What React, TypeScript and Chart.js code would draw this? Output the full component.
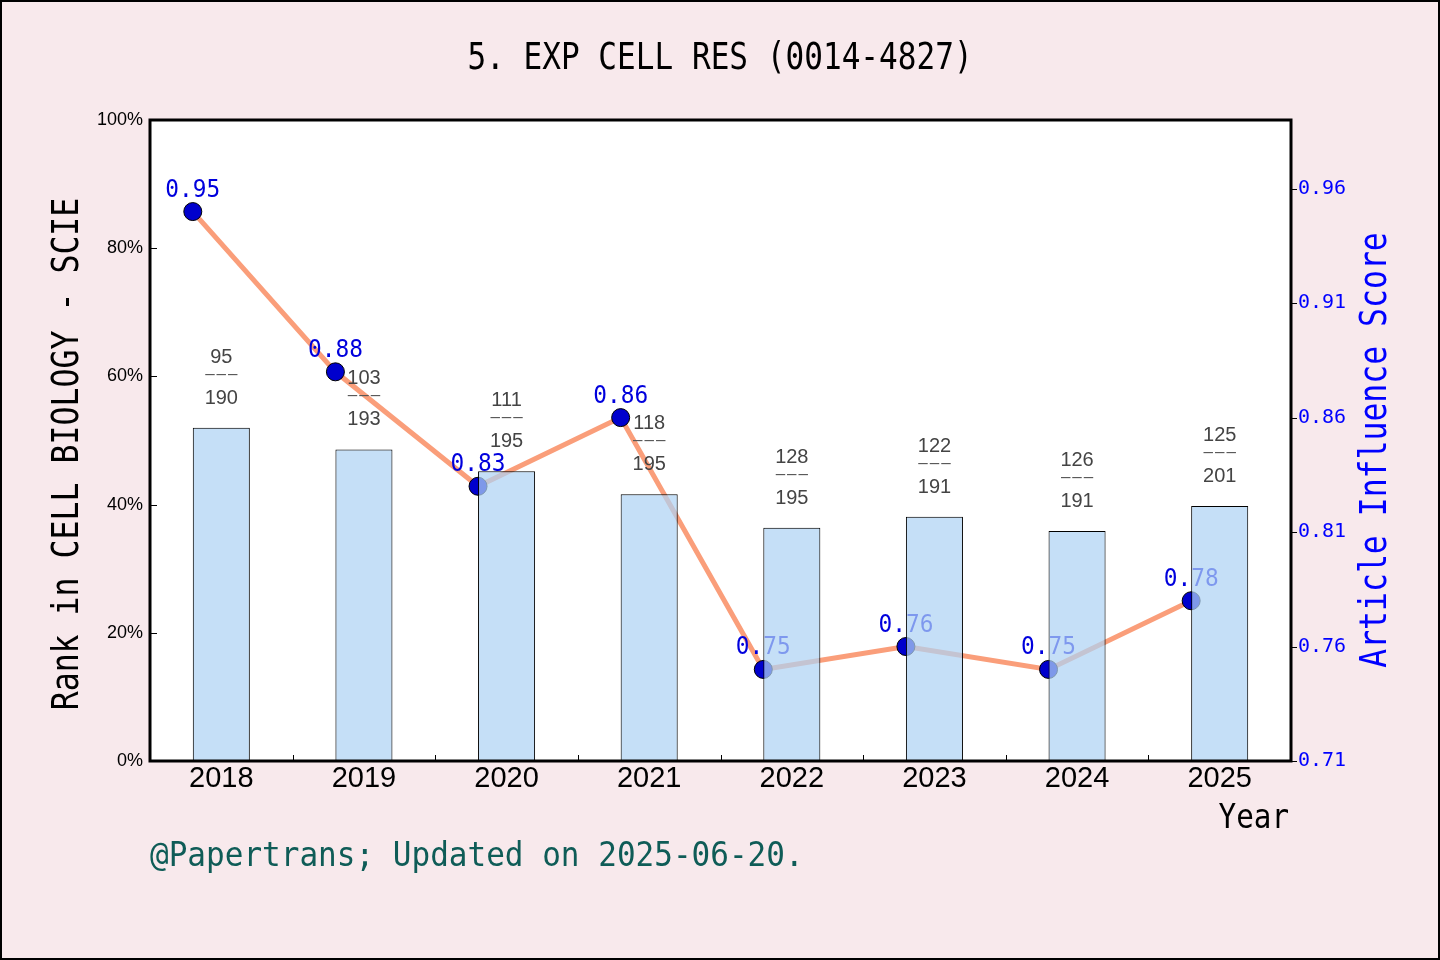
import React, { useEffect, useRef } from "react";
import { Chart, registerables } from "chart.js";

Chart.register(...registerables);

// ---------- data ----------
const years = ["2018", "2019", "2020", "2021", "2022", "2023", "2024", "2025"];
const rankPercent = [52.0, 48.6, 45.2, 41.6, 36.4, 38.1, 35.9, 39.8];
const rankNumbers = [95, 103, 111, 118, 128, 122, 126, 125];
const categoryTotals = [190, 193, 195, 195, 195, 191, 191, 201];
const aisValues = [0.95, 0.88, 0.83, 0.86, 0.75, 0.76, 0.75, 0.78];
const rankTicks = [0, 20, 40, 60, 80, 100];
const aisTicks = [0.71, 0.76, 0.81, 0.86, 0.91, 0.96];

const titleText = "5. EXP CELL RES (0014-4827)";
const leftTitle = "Rank in CELL BIOLOGY - SCIE";
const rightTitle = "Article Influence Score";
const xTitle = "Year";
const footerText = "@Papertrans; Updated on 2025-06-20.";

// ---------- style ----------
const BG = "#f8e9ec";
const MONO = "'DejaVu Sans Mono', monospace";
const SANS = "'Liberation Sans', Arial, sans-serif";
const LINE_SHIFT = -0.2;

function drawText(
  ctx: CanvasRenderingContext2D,
  text: string,
  x: number,
  y: number,
  size: number,
  sx: number,
  color: string,
  align: CanvasTextAlign,
  rotate = false,
  family = MONO,
  spacing = 0
) {
  ctx.save();
  ctx.translate(x, y);
  if (rotate) ctx.rotate(-Math.PI / 2);
  ctx.scale(sx, 1);
  ctx.font = `${size}px ${family}`;
  (ctx as any).letterSpacing = `${spacing}px`;
  ctx.fillStyle = color;
  ctx.textAlign = align;
  ctx.textBaseline = "alphabetic";
  ctx.fillText(text, spacing ? spacing / 2 : 0, 0);
  ctx.restore();
}

const decorPlugin = {
  id: "decor",
  beforeDraw(chart: any) {
    const { ctx, chartArea: a, width, height } = chart;
    ctx.save();
    ctx.fillStyle = BG;
    ctx.fillRect(0, 0, width, height);
    ctx.fillStyle = "#ffffff";
    ctx.fillRect(a.left, a.top, a.right - a.left, a.bottom - a.top);
    ctx.restore();
  },
  afterDatasetDraw(chart: any, args: any) {
    if (args.index !== 1) return;
    const ctx = chart.ctx as CanvasRenderingContext2D;
    // AIS point labels
    const lineMeta = chart.getDatasetMeta(1);
    lineMeta.data.forEach((pt: any, i: number) => {
      drawText(ctx, aisValues[i].toFixed(2), pt.x, pt.y - 15, 24, 0.95, "#0000dd", "center");
    });
    // rank labels above bars
    const barMeta = chart.getDatasetMeta(0);
    barMeta.data.forEach((bar: any, i: number) => {
      drawText(ctx, String(rankNumbers[i]), bar.x, bar.y - 65, 20, 1, "#444444", "center", false, SANS);
      drawText(ctx, "\u2013\u2013\u2013", bar.x, bar.y - 49, 17, 1, "#555555", "center", false, SANS, 2);
      drawText(ctx, String(categoryTotals[i]), bar.x, bar.y - 24, 20, 1, "#444444", "center", false, SANS);
    });
  },
  afterDatasetsDraw(chart: any) {
    const { ctx, chartArea: a } = chart;
    const n = years.length;
    const cw = (a.right - a.left) / n;
    ctx.save();
    ctx.strokeStyle = "#000";
    ctx.lineWidth = 1;
    ctx.beginPath();
    for (let k = 1; k < n; k++) {
      const x = Math.round(a.left + k * cw) + 0.5;
      ctx.moveTo(x, a.bottom);
      ctx.lineTo(x, a.bottom - 6);
    }
    const y = chart.scales.y;
    rankTicks.forEach((v) => {
      const py = Math.round(y.getPixelForValue(v)) + 0.5;
      ctx.moveTo(a.left, py);
      ctx.lineTo(a.left + 7, py);
    });
    const y2 = chart.scales.y2;
    aisTicks.forEach((v) => {
      const py = Math.round(y2.getPixelForValue(v)) + 0.5;
      ctx.moveTo(a.right, py);
      ctx.lineTo(a.right + 6, py);
    });
    ctx.stroke();
    ctx.lineWidth = 3;
    ctx.strokeRect(a.left, a.top, a.right - a.left, a.bottom - a.top);
    ctx.restore();
  },
  afterDraw(chart: any) {
    const { ctx, width, height, chartArea: a } = chart;
    drawText(ctx, titleText, width / 2, 69, 37, 0.84, "#000", "center");
    drawText(ctx, leftTitle, 78, 454, 38, 0.83, "#000", "center", true);
    drawText(ctx, rightTitle, 1386, 450, 37, 0.85, "#0000ff", "center", true);
    drawText(ctx, xTitle, a.right - 2, 828, 34, 0.86, "#000", "right");
    drawText(ctx, footerText, 150, 866, 33, 0.94, "#0f5c57", "left");
    ctx.save();
    ctx.strokeStyle = "#000";
    ctx.lineWidth = 2;
    ctx.strokeRect(1, 1, width - 2, height - 2);
    ctx.restore();
  },
};

export default function App() {
  const ref = useRef<HTMLCanvasElement | null>(null);

  useEffect(() => {
    if (!ref.current) return;
    const chart = new Chart(ref.current, {
      type: "bar",
      data: {
        labels: years,
        datasets: [
          {
            type: "bar",
            label: "Rank",
            data: rankPercent,
            xAxisID: "x",
            yAxisID: "y",
            backgroundColor: "rgba(174, 211, 244, 0.72)",
            borderColor: "#000",
            borderWidth: 1,
            barPercentage: 0.4,
            categoryPercentage: 1,
            grouped: false,
            order: 0,
          } as any,
          {
            type: "line",
            label: "AIS",
            data: aisValues.map((v, i) => ({ x: i + LINE_SHIFT, y: v })),
            xAxisID: "xl",
            yAxisID: "y2",
            borderColor: "rgb(250, 158, 122)",
            borderWidth: 5,
            pointRadius: 9,
            pointBackgroundColor: "#0000cd",
            pointBorderColor: "#000",
            pointBorderWidth: 1,
            tension: 0,
            order: 1,
          } as any,
        ],
      },
      options: {
        responsive: false,
        animation: false,
        devicePixelRatio: 1,
        layout: { padding: { top: 120, left: 0, right: 0, bottom: 0 } },
        plugins: { legend: { display: false }, tooltip: { enabled: false }, title: { display: false } },
        scales: {
          x: {
            type: "category",
            offset: true,
            grid: { display: false, drawTicks: false },
            border: { display: false },
            ticks: { color: "#000", font: { family: SANS, size: 29 }, padding: 1 },
            afterFit: (s: any) => {
              s.height = 199;
            },
          },
          xl: {
            type: "linear",
            display: false,
            offset: false,
            grace: 0,
            bounds: "data",
            min: -0.5,
            max: years.length - 0.5,
          },
          y: {
            position: "left",
            min: 0,
            max: 100,
            grid: { display: false, drawTicks: false },
            border: { display: false },
            afterBuildTicks: (s: any) => {
              s.ticks = rankTicks.map((v) => ({ value: v }));
            },
            ticks: {
              color: "#000",
              font: { family: SANS, size: 18 },
              padding: 7,
              callback: (v: any) => `${v}%`,
            },
            afterFit: (s: any) => {
              s.width = 150;
            },
          },
          y2: {
            position: "right",
            min: 0.71,
            max: 0.99,
            grid: { display: false, drawTicks: false },
            border: { display: false },
            afterBuildTicks: (s: any) => {
              s.ticks = aisTicks.map((v) => ({ value: v }));
            },
            ticks: {
              color: "#0000ff",
              font: { family: MONO, size: 20 },
              padding: 7,
              callback: (v: any) => Number(v).toFixed(2),
            },
            afterFit: (s: any) => {
              s.width = 149;
            },
          },
        },
      } as any,
      plugins: [decorPlugin],
    });
    return () => chart.destroy();
  }, []);

  return (
    <div style={{ position: "fixed", left: 0, top: 0, width: 1440, height: 960 }}>
      <canvas ref={ref} width={1440} height={960} style={{ display: "block" }} />
    </div>
  );
}
